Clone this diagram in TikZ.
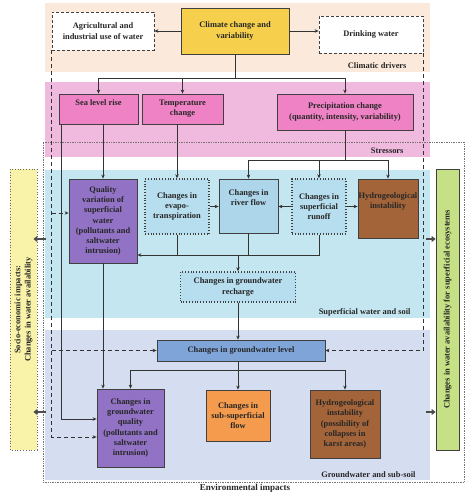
\documentclass[tikz,border=0pt]{standalone}
\usepackage{fontspec}
\setmainfont{Liberation Serif}
\usetikzlibrary{arrows.meta}

\definecolor{peach}{RGB}{251,233,219}
\definecolor{pinkband}{RGB}{240,185,222}
\definecolor{pinkbox}{RGB}{238,130,196}
\definecolor{climyellow}{RGB}{246,208,76}
\definecolor{blueband}{RGB}{196,230,241}
\definecolor{bluebox}{RGB}{183,222,238}
\definecolor{riverblue}{RGB}{174,214,234}
\definecolor{purplebox}{RGB}{145,114,196}
\definecolor{brownbox}{RGB}{163,100,58}
\definecolor{lavband}{RGB}{213,221,240}
\definecolor{levelblue}{RGB}{127,164,216}
\definecolor{orangebox}{RGB}{244,155,78}
\definecolor{sideyellow}{RGB}{248,243,168}
\definecolor{sidegreen}{RGB}{197,224,133}

\begin{document}
\begin{tikzpicture}[x=1pt,y=-1pt,>={Stealth[length=4pt,width=3.5pt]},
	box/.style={draw=black!75,line width=0.8pt,align=center,inner sep=0.5pt,text=black!85,font=\fontsize{8.4}{10.3}\selectfont\bfseries},
	dashbox/.style={box,dash pattern=on 3pt off 2pt},
	dotbox/.style={box,dotted,line width=1.4pt},
	plain/.style={line width=0.7pt,draw=black!80},
	link/.style={->,plain},
	dlink/.style={link,dash pattern=on 4pt off 3pt},
	fat/.style={-{Triangle[length=4pt,width=6pt]},line width=2.8pt,draw=black!70},
	tag/.style={anchor=east,font=\fontsize{8.4}{10}\selectfont\bfseries,text=black!85}]
	
	\useasboundingbox (0,0) rectangle (474,498);
	
	% bands
	\fill[peach] (45,3) rectangle (430,72);
	\fill[pinkband] (45,82) rectangle (430,157);
	\fill[blueband] (45,170) rectangle (430,318);
	\fill[lavband] (45,330) rectangle (430,480);
	
	\node[draw=black!55,densely dotted,line width=0.7pt,minimum width=421pt,minimum height=340pt,inner sep=0pt] (env) at (253.5,312) {};
	\node[font=\fontsize{9}{10}\selectfont\bfseries,text=black!85] (envlab) at (245,488) {Environmental impacts};
	
	\node[tag] (t1) at (410,66) {Climatic drivers};
	\node[tag] (t2) at (407,151) {Stressors};
	\node[tag] (t3) at (414,312) {Superficial water and soil};
	\node[tag] (t4) at (419,475) {Groundwater and sub-soil};
	
	% boxes
	\node[dashbox,fill=white,minimum width=102pt,minimum height=38pt] (agri) at (103,31) {Agricultural and\\industrial use of water};
	\node[box,fill=climyellow,minimum width=108pt,minimum height=46pt] (clim) at (235,31) {Climate change and\\variability};
	\node[dashbox,fill=white,minimum width=104pt,minimum height=37pt] (drink) at (371,34.5) {Drinking water};
	
	\node[box,fill=pinkbox,minimum width=79pt,minimum height=30pt] (sea) at (98.5,109) {Sea level rise\\[3pt]};
	\node[box,fill=pinkbox,minimum width=81pt,minimum height=30pt] (temp) at (182.5,109) {Temperature\\change};
	\node[box,fill=pinkbox,minimum width=136pt,minimum height=36pt] (prec) at (345,112) {Precipitation change\\(quantity, intensity, variability)};
	
	\node[box,fill=purplebox,minimum width=68pt,minimum height=84pt] (qual) at (103,221) {Quality\\variation of\\superficial\\water\\(pollutants and\\saltwater\\intrusion)};
	\node[dotbox,fill=bluebox,minimum width=64pt,minimum height=55pt] (evap) at (177,206.5) {Changes in\\evapo-\\transpiration};
	\node[box,fill=riverblue,minimum width=59pt,minimum height=54pt] (river) at (248.5,206) {Changes in\\river flow\\[6pt]};
	\node[dotbox,fill=bluebox,minimum width=54pt,minimum height=55pt] (runoff) at (319,206.5) {Changes in\\superficial\\runoff};
	\node[box,fill=brownbox,minimum width=60pt,minimum height=59pt] (hydro) at (388,208.5) {Hydrogeological\\instability\\[6pt]};
	
	\node[dotbox,fill=bluebox,minimum width=115pt,minimum height=30pt] (recharge) at (238,287) {Changes in groundwater\\recharge};
	\node[box,fill=levelblue,minimum width=168pt,minimum height=21pt] (level) at (241,350.5) {Changes in groundwater level};
	
	\node[box,fill=purplebox,minimum width=67pt,minimum height=78pt] (gwq) at (130.5,428) {Changes in\\groundwater\\quality\\(pollutants and\\saltwater\\intrusion)};
	\node[box,fill=orangebox,minimum width=64pt,minimum height=51pt] (sub) at (238,415.5) {Changes in\\sub-superficial\\flow};
	\node[box,fill=brownbox,minimum width=70pt,minimum height=68pt] (karst) at (345,424) {Hydrogeological\\instability\\(possibility of\\collapses in\\karst areas)};
	
	\node[box,draw=black!60,dotted,line width=0.9pt,fill=sideyellow,rotate=90,minimum width=281pt,minimum height=27pt] (socio) at (23.5,309.5) {Socio-economic impacts:\\Changes in water availability};
	\node[box,fill=sidegreen,rotate=90,minimum width=281pt,minimum height=23pt] (eco) at (447.5,309.5) {Changes in water availability for superficial ecosystems};
	
	% connectors
	\coordinate (j1) at (235,78);
	\coordinate (j2) at (345,160);
	\coordinate (j3) at (238,255);
	\coordinate (j4) at (238,370);
	\coordinate (r1) at (0,239);
	\coordinate (r2) at (0,412);
	\coordinate (q1) at ([yshift=8pt]qual.west);
	
	\draw[link] (clim.west) -- (agri.east);
	\draw[link] (clim.east) -- (clim.east -| drink.west);
	\draw[plain] (clim.south) -- (j1);
	\draw[link] (j1) -| (sea.north);
	\draw[link] (j1) -| (temp.north);
	\draw[link] (j1) -| (prec.north);
	
	\draw[link] ([xshift=3pt]sea.south west) |- ([yshift=9pt]gwq.west);
	\draw[link] (sea.south -| qual.north) -- (qual.north);
	\draw[link] (temp.south -| evap.north) -- (evap.north);
	\draw[plain] (prec.south) -- (j2);
	\draw[link] (j2) -| (river.north);
	\draw[link] (j2) -| (runoff.north);
	\draw[link] (j2) -| (hydro.north);
	
	\draw[link] (evap.east) -- (evap.east -| river.west);
	\draw[link] (runoff.west) -- (runoff.west -| river.east);
	\draw[link] (runoff.east) -- (runoff.east -| hydro.west);
	\draw[plain] (evap.south) -- (evap.south |- j3);
	\draw[plain] (river.south) -- (river.south |- j3);
	\draw[link] (runoff.south) |- (qual.east |- j3);
	\draw[link] (j3) -- (recharge.north);
	\draw[link] (recharge.south) -- (recharge.south |- level.north);
	
	\draw[link] (qual.south) -- (qual.south |- gwq.north);
	\draw[link] (level.south -| sub.north) -- (sub.north);
	\draw[link] (j4) -| (gwq.north);
	\draw[link] (j4) -| (karst.north);
	
	\draw[dlink] (agri.south west) |- ([yshift=-9pt]gwq.west);
	\draw[dlink] (agri.south west |- q1) -- (q1);
	\draw[dlink] (agri.south west |- level.west) -- (level.west);
	\draw[dlink] (drink.south east) |- (level.east);
	
	\draw[fat] ([xshift=3pt]env.west |- r1) -- ([xshift=-4pt]socio.south |- r1);
	\draw[fat] ([xshift=3pt]env.west |- r2) -- ([xshift=-4pt]socio.south |- r2);
	\draw[fat] ([xshift=3pt]drink.east |- r1) -- (eco.north |- r1);
	\draw[fat] ([xshift=3pt]drink.east |- r2) -- (eco.north |- r2);
\end{tikzpicture}
\end{document}
